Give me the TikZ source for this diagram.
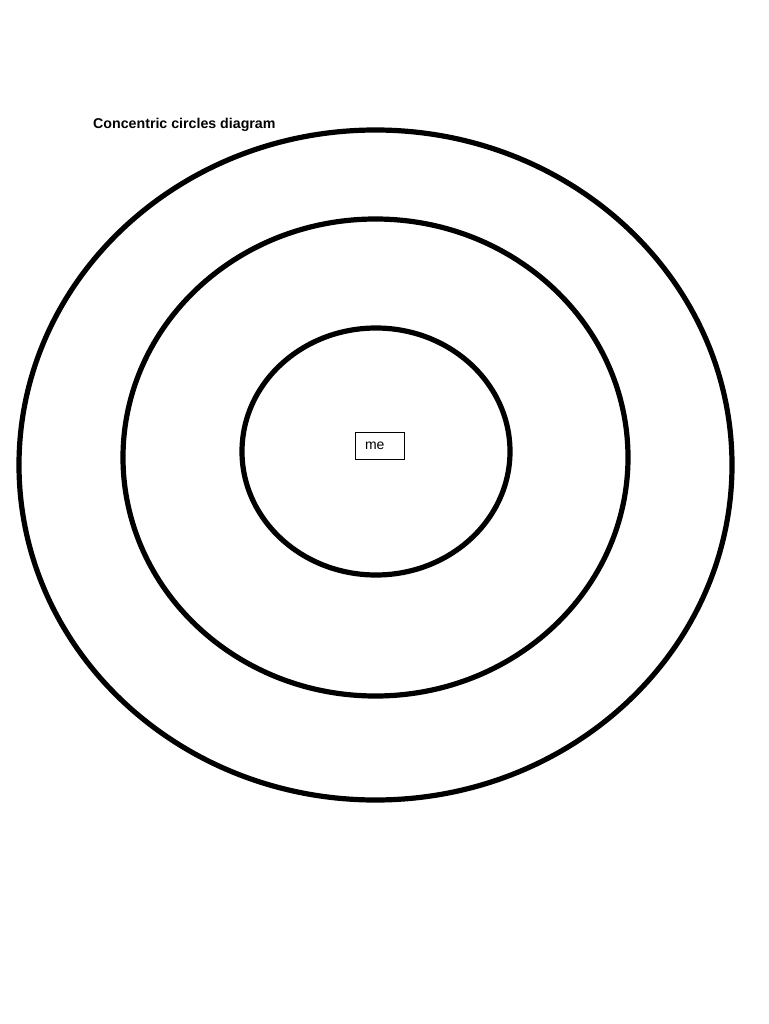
\documentclass[tikz,border=0pt]{standalone}
\usepackage{fontspec}
\setmainfont{Liberation Sans}
\begin{document}
\begin{tikzpicture}[x=1pt, y=-1pt, ring/.style={draw=black, line width=5.2pt}]
		\useasboundingbox (0,0) rectangle (768,1024);
		\draw[ring] (375.5,465) ellipse [x radius=356.5pt, y radius=335pt];
		\draw[ring] (375.5,457.5) ellipse [x radius=252.5pt, y radius=238.5pt];
		\draw[ring] (376,451.5) ellipse [x radius=134pt, y radius=123.5pt];
		
		\node (title) [anchor=base west, inner sep=0pt] at (93,129) {\fontsize{14.2}{16}\selectfont\bfseries Concentric circles diagram};
		\node (me) [draw, line width=0.8pt, text width=29pt, align=left, inner xsep=10pt, minimum height=27pt] at (379.5,445.5) {\fontsize{14}{15}\selectfont me};
	\end{tikzpicture}
\end{document}
